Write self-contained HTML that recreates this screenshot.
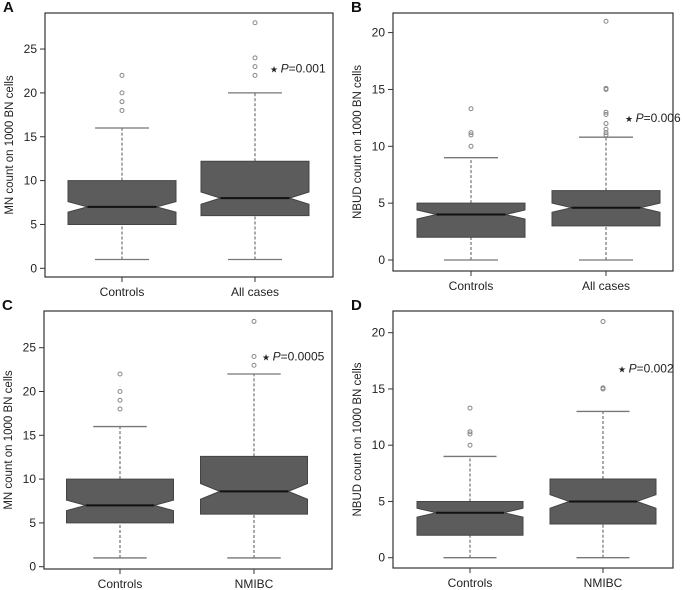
<!DOCTYPE html>
<html><head><meta charset="utf-8"><style>
body{margin:0;background:#fff;}
svg{display:block;font-family:"Liberation Sans",Arial,sans-serif;}
</style></head><body>
<svg id="fig" width="685" height="590" viewBox="0 0 685 590"></svg>
<script>
// ---- data ----
const panelLetters = ["A","B","C","D"];
const yLabels = ["MN count on 1000 BN cells","NBUD count on 1000 BN cells","MN count on 1000 BN cells","NBUD count on 1000 BN cells"];
const categoriesA = ["Controls","All cases"];
const categoriesB = ["Controls","All cases"];
const categoriesC = ["Controls","NMIBC"];
const categoriesD = ["Controls","NMIBC"];
const ticksA = [0,5,10,15,20,25];
const ticksB = [0,5,10,15,20];
const ticksC = [0,5,10,15,20,25];
const ticksD = [0,5,10,15,20];
// [whiskerLow, q1, notchLow, median, notchHigh, q3, whiskerHigh]
const statsA = [[1,5,6.4,7,7.6,10,16],[1,6,7.3,8,8.7,12.2,20]];
const statsB = [[0,2,3.6,4,4.4,5,9],[0,3,4.2,4.6,5.0,6.1,10.8]];
const statsC = [[1,5,6.4,7,7.6,10,16],[1,6,7.7,8.6,9.5,12.6,22]];
const statsD = [[0,2,3.6,4,4.4,5,9],[0,3,4.4,5,5.6,7,13]];
const outliersA = [[18,19,20,22],[22,23,24,28]];
const outliersB = [[10,11,11.2,13.3],[11,11.2,11.5,12,12.8,13,15,15.1,21]];
const outliersC = [[18,19,20,22],[23,24,28]];
const outliersD = [[10,11,11.2,13.3],[15,15.1,21]];
const pLabels = ["P=0.001","P=0.006","P=0.0005","P=0.002"];
const pYvals = [22.8,12.5,24,16.8];

// ---- layout (not data) ----
const panels = [
 {box:[45,13,333,277],y0:268.3,ppu:8.77,cx:[122,255],bw:108,px:270,cats:categoriesA,ticks:ticksA,stats:statsA,outs:outliersA},
 {box:[393,13,673,271],y0:260,ppu:11.37,cx:[471,606],bw:108,px:625,cats:categoriesB,ticks:ticksB,stats:statsB,outs:outliersB},
 {box:[44,311,332,569],y0:566.7,ppu:8.76,cx:[120,254],bw:107,px:262,cats:categoriesC,ticks:ticksC,stats:statsC,outs:outliersC},
 {box:[393,311,673,568],y0:557.7,ppu:11.25,cx:[470,603],bw:106,px:618,cats:categoriesD,ticks:ticksD,stats:statsD,outs:outliersD}
];
const NS="http://www.w3.org/2000/svg";
const svg=document.getElementById('fig');
function mk(tag,attrs,parent){const e=document.createElementNS(NS,tag);for(const k in attrs)e.setAttribute(k,attrs[k]);(parent||svg).appendChild(e);return e;}

panels.forEach((p,i)=>{
  const g=mk('g',{});
  
  
  const Y=v=>p.y0-v*p.ppu;
  const [x0,y0,x1,y1]=p.box;
  const L=mk('text',{x:x0-42,y:y0-1,'font-size':15,'font-weight':'bold',fill:'#111'},g);
  L.textContent=panelLetters[i];
  
  
  p.ticks.forEach(t=>{
    const y=Y(t);
    mk('line',{x1:x0-5,x2:x0,y1:y,y2:y,stroke:'#333','stroke-width':1},g);
    const tx=mk('text',{x:x0-8,y:y+4,'font-size':12,'text-anchor':'end',fill:'#222'},g);
    tx.textContent=t;
    
    
  });
  const ym=(y0+y1)/2;
  const yl=mk('text',{x:0,y:0,'font-size':11.5,'text-anchor':'middle',fill:'#222',transform:`translate(${x0-32},${ym}) rotate(-90)`},g);
  yl.textContent=yLabels[i];
  
  
  p.stats.forEach((s,j)=>{
    const cx=p.cx[j],hw=p.bw/2,ni=p.bw*0.18;
    const bg=mk('g',{},g);
    
    
    mk('line',{x1:cx,x2:cx,y1:Y(s[0]),y2:Y(s[1]),stroke:'#555','stroke-dasharray':'3,2'},bg);
    mk('line',{x1:cx,x2:cx,y1:Y(s[5]),y2:Y(s[6]),stroke:'#555','stroke-dasharray':'3,2'},bg);
    mk('line',{x1:cx-hw/2,x2:cx+hw/2,y1:Y(s[0]),y2:Y(s[0]),stroke:'#777','stroke-width':1.3},bg);
    mk('line',{x1:cx-hw/2,x2:cx+hw/2,y1:Y(s[6]),y2:Y(s[6]),stroke:'#777','stroke-width':1.3},bg);
    const pts=[[cx-hw,Y(s[1])],[cx+hw,Y(s[1])],[cx+hw,Y(s[2])],[cx+hw-ni,Y(s[3])],[cx+hw,Y(s[4])],[cx+hw,Y(s[5])],
      [cx-hw,Y(s[5])],[cx-hw,Y(s[4])],[cx-hw+ni,Y(s[3])],[cx-hw,Y(s[2])]];
    mk('polygon',{points:pts.map(q=>q.join(',')).join(' '),fill:'#5c5c5c',stroke:'#444','stroke-width':1},bg);
    mk('line',{x1:cx-hw+ni,x2:cx+hw-ni,y1:Y(s[3]),y2:Y(s[3]),stroke:'#111','stroke-width':2},bg);
    p.outs[j].forEach(o=>{
      const c=mk('circle',{cx:cx,cy:Y(o),r:2,fill:'none',stroke:'#888','stroke-width':1},bg);
      
      
    });
    mk('line',{x1:cx,x2:cx,y1:y1,y2:y1+5,stroke:'#333'},g);
    const xt=mk('text',{x:cx,y:y1+19,'font-size':12,'text-anchor':'middle',fill:'#222'},g);
    xt.textContent=p.cats[j];
    
    
  });
  mk('rect',{x:x0,y:y0,width:x1-x0,height:y1-y0,fill:'none',stroke:'#333','stroke-width':1.2},g);
  const pt=mk('text',{x:p.px,y:Y(pYvals[i])+4,'font-size':12,fill:'#222'},g);
  pt.innerHTML='<tspan font-size="9">★ </tspan><tspan font-style="italic">P</tspan>'+pLabels[i].slice(1);
  
  
});
</script>
</body></html>
